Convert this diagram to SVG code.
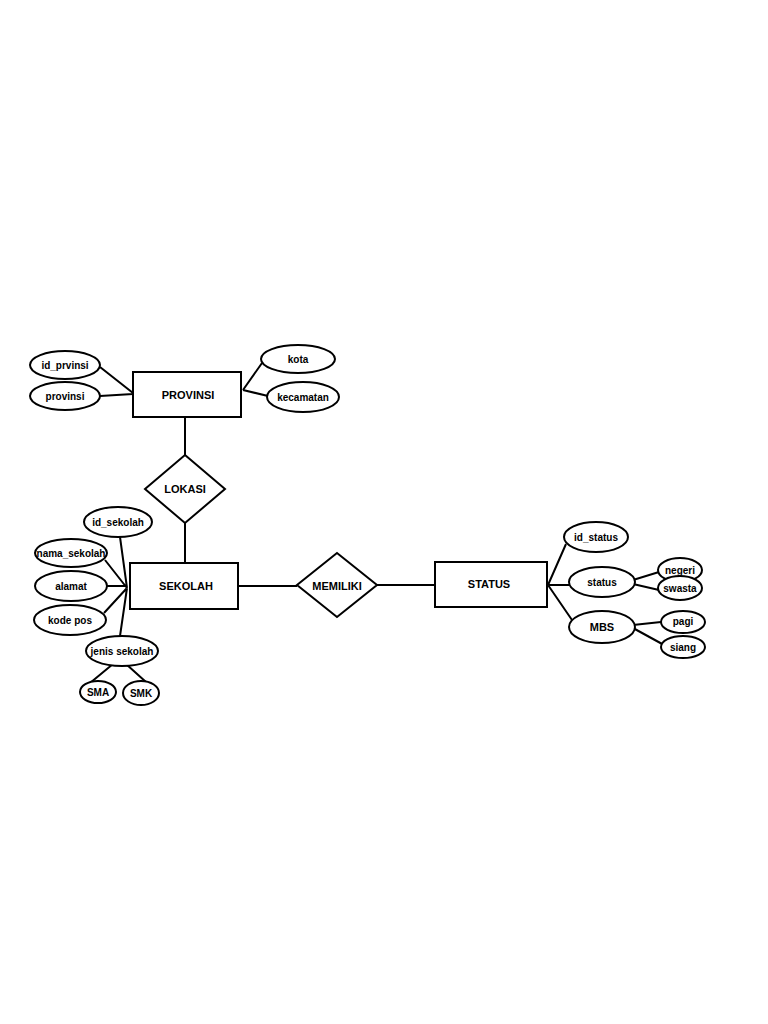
<svg xmlns="http://www.w3.org/2000/svg" width="768" height="1024" viewBox="0 0 768 1024">
<style>
.s{fill:#fff;stroke:#000;stroke-width:2}
.l{stroke:#000;stroke-width:2;fill:none}
text{font-family:"Liberation Sans",Arial,sans-serif;font-weight:bold;text-anchor:middle;dominant-baseline:central;fill:#000}
.e{font-size:10px}
.m{font-size:11px}
</style>
<rect width="768" height="1024" fill="#fff"/>
<g id="connectors">
<path class="l" d="M100,367L133,393M100,396L133,394M262,363L243,390M268,396L243,390M185,417V455M185,523V563"/>
<path class="l" d="M120,537L127,588M105,560L127,588M107,586H127M104,613L127,588M120,636L127,588M113,664L90,683M126,664L146,682"/>
<path class="l" d="M238,586H297M377,585H435M548,585L566,544M548,585H569M548,585L572,620M633,580L659,572M633,584L659,590M633,625L661,622M633,628L664,645"/>
</g>
<g id="provinsi"><rect class="s" x="133" y="372" width="108" height="45"/><text class="m" x="188" y="395">PROVINSI</text></g>
<g id="id_prvinsi"><ellipse class="s" cx="65" cy="365" rx="35" ry="14"/><text class="e" x="65" y="365">id_prvinsi</text></g>
<g id="provinsi_attr"><ellipse class="s" cx="65" cy="396" rx="35" ry="14"/><text class="e" x="65" y="396">provinsi</text></g>
<g id="kota"><ellipse class="s" cx="298" cy="359" rx="37" ry="14"/><text class="e" x="298" y="359">kota</text></g>
<g id="kecamatan"><ellipse class="s" cx="303" cy="397" rx="36" ry="15"/><text class="e" x="303" y="397">kecamatan</text></g>
<g id="lokasi"><polygon class="s" points="185,455 225,489 185,523 145,489"/><text class="m" x="185" y="489">LOKASI</text></g>
<g id="sekolah"><rect class="s" x="130" y="563" width="108" height="46"/><text class="m" x="186" y="586">SEKOLAH</text></g>
<g id="id_sekolah"><ellipse class="s" cx="118" cy="522" rx="34" ry="15"/><text class="e" x="118" y="522">id_sekolah</text></g>
<g id="nama_sekolah"><ellipse class="s" cx="71" cy="553" rx="36" ry="14"/><text class="e" x="71" y="553" font-size="9.5">nama_sekolah</text></g>
<g id="alamat"><ellipse class="s" cx="71" cy="586" rx="36" ry="15"/><text class="e" x="71" y="586">alamat</text></g>
<g id="kode_pos"><ellipse class="s" cx="70" cy="620" rx="36" ry="15"/><text class="e" x="70" y="620">kode pos</text></g>
<g id="jenis_sekolah"><ellipse class="s" cx="122" cy="651" rx="36" ry="15"/><text class="e" x="122" y="651" font-size="9.5">jenis sekolah</text></g>
<g id="sma"><ellipse class="s" cx="98" cy="692" rx="18" ry="11"/><text class="e" x="98" y="692">SMA</text></g>
<g id="smk"><ellipse class="s" cx="141" cy="693" rx="18" ry="12"/><text class="e" x="141" y="693">SMK</text></g>
<g id="memiliki"><polygon class="s" points="337,553 377,585 337,617 297,585"/><text class="m" x="337" y="586">MEMILIKI</text></g>
<g id="status"><rect class="s" x="435" y="562" width="112" height="45"/><text class="m" x="489" y="584">STATUS</text></g>
<g id="id_status"><ellipse class="s" cx="596" cy="537" rx="32" ry="15"/><text class="e" x="596" y="537">id_status</text></g>
<g id="status_attr"><ellipse class="s" cx="602" cy="582" rx="33" ry="15"/><text class="e" x="602" y="582">status</text></g>
<g id="mbs"><ellipse class="s" cx="602" cy="627" rx="33" ry="16"/><text class="m" x="602" y="627">MBS</text></g>
<g id="negeri"><ellipse class="s" cx="680" cy="570" rx="22" ry="12"/><text class="e" x="680" y="570" font-size="9">negeri</text></g>
<g id="swasta"><ellipse class="s" cx="680" cy="588" rx="22" ry="12"/><text class="e" x="680" y="588" font-size="9">swasta</text></g>
<g id="pagi"><ellipse class="s" cx="683" cy="622" rx="22" ry="11"/><text class="e" x="683" y="621" font-size="9">pagi</text></g>
<g id="siang"><ellipse class="s" cx="683" cy="647" rx="22" ry="11"/><text class="e" x="683" y="647" font-size="9">siang</text></g>
</svg>
